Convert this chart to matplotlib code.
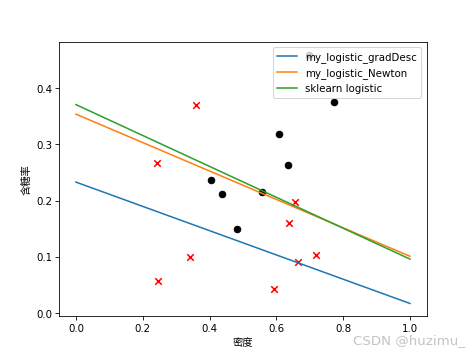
import matplotlib.pyplot as plt
import numpy as np

plt.rcParams['font.family'] = ['DejaVu Sans', 'Noto Sans CJK SC']

# watermelon 3.0a: density, sugar rate
good_density = [0.697, 0.774, 0.634, 0.608, 0.556, 0.403, 0.481, 0.437]
good_sugar = [0.460, 0.376, 0.264, 0.318, 0.215, 0.237, 0.149, 0.211]
bad_density = [0.666, 0.243, 0.245, 0.343, 0.639, 0.657, 0.360, 0.593, 0.719]
bad_sugar = [0.091, 0.267, 0.057, 0.099, 0.161, 0.198, 0.370, 0.042, 0.103]

# decision boundaries, y at x=0 and x=1
line_x = [0.0, 1.0]
grad_y = [0.233, 0.017]
newton_y = [0.354, 0.101]
sklearn_y = [0.371, 0.096]

fig = plt.figure(figsize=(6.4, 4.8), dpi=474 / 6.4)
ax = fig.add_subplot(111)

ax.scatter(good_density, good_sugar, c='k', marker='o', s=40)
ax.scatter(bad_density, bad_sugar, c='red', marker='x', s=40)

ax.plot(line_x, grad_y, label='my_logistic_gradDesc')
ax.plot(line_x, newton_y, label='my_logistic_Newton')
ax.plot(line_x, sklearn_y, label='sklearn logistic')

ax.set_xlabel('密度')
ax.set_ylabel('含糖率')
ax.legend(loc='upper right')

fig.text(0.98, 0.025, 'CSDN @huzimu_', ha='right', va='bottom',
         color='#c4c4c4', fontsize=13)

fig.savefig('out.png', dpi=474 / 6.4)
